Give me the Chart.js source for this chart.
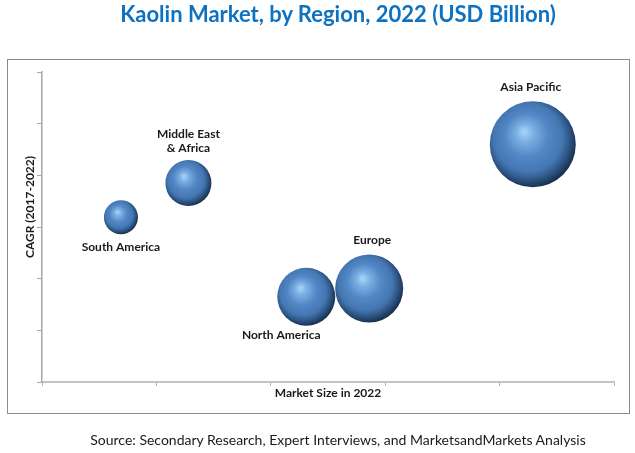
<!DOCTYPE html>
<html>
<head>
<meta charset="utf-8">
<title>Kaolin Market, by Region, 2022</title>
<script src="https://cdn.jsdelivr.net/npm/chart.js@4.4.0/dist/chart.umd.min.js"></script>
<style>
  body { margin: 0; background: #fff; }
  #wrap { position: relative; width: 635px; height: 453px; overflow: hidden; }
  #myChart { position: absolute; left: 0; top: 0; }
  #title {
    position: absolute; left: 41px; width: 594px; top: 0;
    text-align: center; font: bold 22px Lato, sans-serif; line-height: 28px;
    color: #0e72c2;
  }
  #source {
    position: absolute; left: 41px; width: 594px; top: 431px;
    text-align: center; font: 14px Lato, sans-serif; line-height: 18px;
    color: #1a1a1a;
  }
</style>
</head>
<body>
<div id="wrap">
  <canvas id="myChart" width="635" height="453"></canvas>
  <div id="title">Kaolin Market, by Region, 2022 (USD Billion)</div>
  <div id="source">Source: Secondary Research, Expert Interviews, and MarketsandMarkets Analysis</div>
</div>
<script>
'use strict';

// values (axes carry no numbers, so units are tick steps)
let regionNames = ['South America', 'Middle East & Africa', 'North America', 'Europe', 'Asia Pacific'];
let labelLines = [['South America'], ['Middle East', '& Africa'], ['North America'], ['Europe'], ['Asia Pacific']];
let marketSize = [0.69, 1.28, 2.31, 2.86, 4.29];
let cagrValues = [3.19, 3.85, 1.65, 1.81, 4.60];
let bubbleSize = [17, 23, 29, 34, 43];
let xTicks = [0, 1, 2, 3, 4, 5];
let yTicks = [0, 1, 2, 3, 4, 5, 6];

// where each label sits relative to its bubble
let labelOffsets = [[0, 30], [0, -49], [-25, 38], [3, -48], [-2, -57]];

let bubbleData = [];
for (let i = 0; i < regionNames.length; i++) {
    bubbleData.push({ x: marketSize[i], y: cagrValues[i], r: bubbleSize[i] });
}

function sphereFill(context) {
    let chart = context.chart;
    if (context.type !== 'data' || !chart.scales.x) {
        return '#4a7ebb';
    }
    let p = context.raw;
    let cx = chart.scales.x.getPixelForValue(p.x);
    let cy = chart.scales.y.getPixelForValue(p.y);
    let r = p.r;
    if (!isFinite(cx) || !isFinite(cy)) {
        return '#4a7ebb';
    }
    let g = chart.ctx.createRadialGradient(cx - r * 0.2, cy - r * 0.3, r * 0.02, cx - r * 0.08, cy - r * 0.1, r * 1.1);
    g.addColorStop(0, '#a6d2f6');
    g.addColorStop(0.18, '#7aaee2');
    g.addColorStop(0.45, '#5287c5');
    g.addColorStop(0.72, '#4477b2');
    g.addColorStop(0.86, '#2f5787');
    g.addColorStop(1, '#1a3150');
    return g;
}

let annotate = {
    id: 'annotate',
    beforeDraw(chart) {
        let c = chart.ctx;
        c.save();
        c.strokeStyle = '#8c8c8c';
        c.lineWidth = 1;
        c.strokeRect(7.5, 59.5, 622, 354);
        c.restore();
    },
    afterDatasetsDraw(chart) {
        let c = chart.ctx;
        let meta = chart.getDatasetMeta(0);
        c.save();
        c.font = 'bold 12px Lato, sans-serif';
        c.fillStyle = '#1a1a1a';
        c.textAlign = 'center';
        c.textBaseline = 'middle';
        meta.data.forEach(function (pt, i) {
            let lines = labelLines[i];
            for (let j = 0; j < lines.length; j++) {
                c.fillText(lines[j], pt.x + labelOffsets[i][0], pt.y + labelOffsets[i][1] + j * 14);
            }
        });
        c.restore();
    },
    afterDraw(chart) {
        let c = chart.ctx;
        let area = chart.chartArea;
        c.save();
        c.font = 'bold 12px Lato, sans-serif';
        c.fillStyle = '#1a1a1a';
        c.textAlign = 'center';
        c.textBaseline = 'middle';
        c.fillText('Market Size in 2022', (area.left + area.right) / 2, area.bottom + 11);
        c.translate(area.left - 12, area.top + 135);
        c.rotate(-Math.PI / 2);
        c.fillText('CAGR (2017-2022)', 0, 0);
        c.restore();
    }
};

let ctx = document.getElementById('myChart').getContext('2d');

let chart = new Chart(ctx, {
    type: 'bubble',
    data: {
        labels: regionNames,
        datasets: [{
            label: 'Kaolin market',
            data: bubbleData,
            backgroundColor: sphereFill,
            borderWidth: 0,
            hoverBorderWidth: 0
        }]
    },
    options: {
        responsive: false,
        devicePixelRatio: 1,
        animation: false,
        clip: false,
        layout: { autoPadding: false, padding: { left: 8, right: 21, top: 72, bottom: 0 } },
        plugins: {
            legend: { display: false },
            tooltip: { enabled: false }
        },
        scales: {
            x: {
                type: 'linear',
                min: xTicks[0],
                max: xTicks[xTicks.length - 1],
                ticks: { display: false, stepSize: 1 },
                grid: { drawOnChartArea: false, drawTicks: true, tickLength: 4, color: '#b3b3b3', lineWidth: 1 },
                border: { display: true, color: '#c4c4c4', width: 2 },
                afterFit(scale) { scale.height = 71; }
            },
            y: {
                type: 'linear',
                min: yTicks[0],
                max: yTicks[yTicks.length - 1],
                ticks: { display: false, stepSize: 1 },
                grid: { drawOnChartArea: false, drawTicks: true, tickLength: 5, color: '#a6a6a6', lineWidth: 1 },
                border: { display: true, color: '#a6a6a6', width: 1.5 },
                afterFit(scale) { scale.width = 34; }
            }
        }
    },
    plugins: [annotate]
});
</script>
</body>
</html>
